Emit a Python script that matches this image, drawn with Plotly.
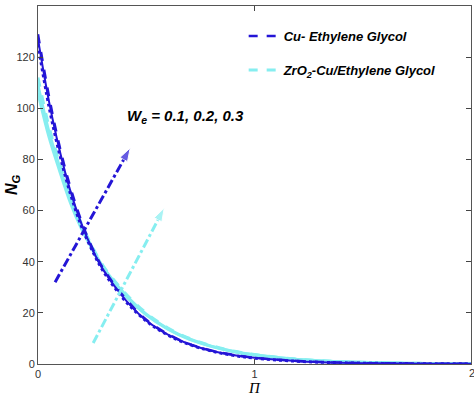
import plotly.graph_objects as go

# ---- data ----
pi_vals = [0, 0.05, 0.1, 0.15, 0.2, 0.25, 0.3, 0.4, 0.5, 0.6, 0.7, 0.8, 0.9, 1.0, 1.2, 1.4, 1.6, 1.8, 2.0]

cu_we01 = [125, 101, 82, 66.5, 54, 44.5, 36.5, 25, 16.8, 11.3, 7.6, 5.1, 3.4, 2.3, 1.05, 0.48, 0.23, 0.1, 0.05]
cu_we02 = [127, 103, 83.5, 67.5, 55, 45, 37, 25.5, 17, 11.5, 7.7, 5.2, 3.5, 2.4, 1.1, 0.5, 0.25, 0.1, 0.05]
cu_we03 = [129, 105, 85, 69, 56, 45.5, 37.5, 26, 17.3, 11.7, 7.8, 5.3, 3.6, 2.45, 1.15, 0.52, 0.26, 0.11, 0.05]

zr_we01 = [106, 89, 75.5, 63, 53, 45, 37.5, 27, 19.2, 13.6, 9.6, 6.9, 4.9, 3.5, 1.75, 0.88, 0.44, 0.21, 0.1]
zr_we02 = [109, 91, 77, 64, 54, 45.5, 38, 27.5, 19.5, 13.8, 9.8, 7, 5, 3.6, 1.8, 0.9, 0.45, 0.22, 0.1]
zr_we03 = [112, 93, 78.5, 65, 55, 46, 38.5, 28, 19.9, 14.1, 10, 7.2, 5.1, 3.7, 1.85, 0.92, 0.46, 0.23, 0.1]

blue_arrow_x = [0.079, 0.426]
blue_arrow_y = [32, 84.5]
cyan_arrow_x = [0.255, 0.583]
cyan_arrow_y = [8.2, 61]

x_ticks = [0, 1]
x_ticklabels = ["0", "1"]
y_ticks = [0, 20, 40, 60, 80, 100, 120, 140]

BLUE = "#2415d6"
CYAN = "#86eef0"

fig = go.Figure()

def add_curve(y, color, dash, name, show, group=None, width=2.5, rank=1000):
    fig.add_trace(go.Scatter(
        x=pi_vals, y=y, mode="lines",
        line=dict(color=color, width=width, dash=dash, shape="spline"),
        name=name, showlegend=show, legendgroup=group, legendrank=rank))

add_curve(zr_we01, CYAN, "solid", "zr1", False, group="zr", width=3)
add_curve(zr_we02, CYAN, "solid", "zr2", False, group="zr", width=3)
add_curve(zr_we03, CYAN, "dash", "<b><i>ZrO<sub>2</sub>-Cu/Ethylene Glycol</i></b>", True, group="zr", width=3, rank=2)
add_curve(cu_we01, BLUE, "dot", "cu1", False, group="cu", width=3)
add_curve(cu_we02, BLUE, "solid", "cu2", False, group="cu", width=2)
add_curve(cu_we03, BLUE, "dash", "<b><i>Cu- Ethylene Glycol</i></b>", True, group="cu", width=2.5, rank=1)

# arrows
for ax_, ay_, col in [(blue_arrow_x, blue_arrow_y, BLUE), (cyan_arrow_x, cyan_arrow_y, CYAN)]:
    fig.add_trace(go.Scatter(
        x=ax_, y=ay_, mode="lines+markers",
        line=dict(color=col, width=3, dash="dashdot"),
        marker=dict(symbol="arrow", size=[0, 14], angleref="previous", color=col),
        showlegend=False, hoverinfo="skip"))

fig.add_annotation(x=0.68, y=96.6, xref="x", yref="y",
                   text="<b><i>W<sub>e</sub> = 0.1, 0.2, 0.3</i></b>",
                   showarrow=False, font=dict(family="Arial", size=15, color="black"))

# axis titles and the clipped last tick label
fig.add_annotation(x=1, y=0, xref="x", yref="paper", yanchor="top", yshift=-14,
                   text="<i>Π</i>", showarrow=False,
                   font=dict(family="Liberation Serif, Times New Roman", size=15, color="black"))
fig.add_annotation(x=0, y=0.5, xref="paper", yref="paper", xanchor="center", xshift=-26,
                   text="<b><i>N<sub>G</sub></i></b>", textangle=-90, showarrow=False,
                   font=dict(family="Arial", size=16, color="black"))
fig.add_annotation(x=2, y=0, xref="x", yref="paper", yanchor="top", yshift=-1, xshift=1,
                   text="2", showarrow=False, font=dict(family="Arial", size=11, color="#333"))

fig.update_layout(
    width=474, height=395,
    margin=dict(l=38, r=3, t=6, b=31),
    paper_bgcolor="white", plot_bgcolor="white",
    font=dict(family="Arial", size=11, color="#222"),
    legend=dict(x=0.475, y=0.958, xanchor="left", yanchor="top",
                bgcolor="rgba(0,0,0,0)", borderwidth=0,
                font=dict(family="Arial", size=13, color="black"),
                traceorder="grouped", tracegroupgap=14),
    xaxis=dict(range=[0, 2], tickvals=x_ticks, ticktext=x_ticklabels, ticks="inside", ticklen=5,
               showline=True, linecolor="#555", linewidth=1, mirror="ticks",
               showgrid=False, zeroline=False, automargin=False,
               tickfont=dict(size=11, color="#333")),
    yaxis=dict(range=[0, 140], tickvals=y_ticks, ticks="inside", ticklen=5,
               showline=True, linecolor="#555", linewidth=1, mirror="ticks",
               showgrid=False, zeroline=False, automargin=False,
               tickfont=dict(size=11, color="#333")),
)

fig.write_html("out.html", config={"displayModeBar": False},
               post_script="document.body.style.margin='0';")
